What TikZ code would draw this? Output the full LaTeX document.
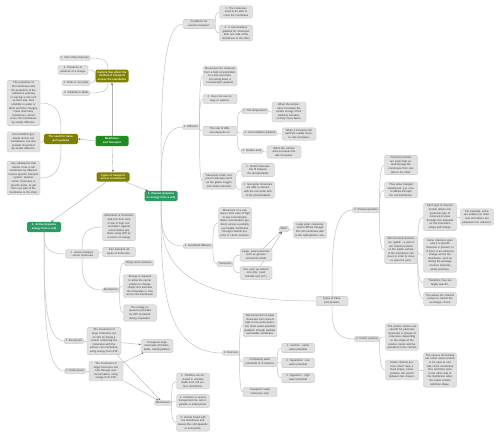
\documentclass[tikz,border=0pt]{standalone}
\usepackage{fontspec}
\setmainfont{Liberation Sans}
\usetikzlibrary{arrows.meta,backgrounds,calc}
\definecolor{boxfill}{RGB}{225,225,225}
\definecolor{boxdraw}{RGB}{195,195,195}
\definecolor{boxtext}{RGB}{60,60,60}
\definecolor{olivec}{RGB}{128,128,0}
\definecolor{greenc}{RGB}{30,140,30}
\definecolor{tealc}{RGB}{45,155,100}
\definecolor{linec}{RGB}{195,195,195}
\definecolor{relc}{RGB}{180,180,180}
\definecolor{headc}{RGB}{90,90,90}
\begin{document}
\begin{tikzpicture}[x=1pt,y=-1pt,
 every node/.style={font=\fontsize{2.7}{3.6}\selectfont, align=center, inner sep=1.5pt},
 box/.style={draw=boxdraw, fill=boxfill, rounded corners=1.5pt, text=boxtext, line width=0.4pt},
 tw/.style={text width=#1pt},
 hdr/.style={rounded corners=1.5pt, text=white, font=\fontsize{2.7}{3.5}\selectfont\bfseries, inner sep=2pt},
 olivebox/.style={hdr, fill=olivec, text width=29pt},
 greenbox/.style={hdr, fill=greenc, text width=29pt},
 tealbox/.style={hdr, fill=tealc, text width=29pt},
 tree/.style={to path={.. controls ($(\tikztostart)!0.5!(\tikztostart|-\tikztotarget)$) and (\tikztostart|-\tikztotarget) .. (\tikztotarget)}},
 branch/.style={draw=linec, line width=0.5pt},
 rel/.style={draw=relc, line width=0.4pt, -{Stealth[length=2.2pt,width=1.8pt,color=headc,fill=headc]}}
]
\useasboundingbox (0,0) rectangle (500,439);

% ---------- upper left ----------
\node[box] (f1) at (75,58) {1. Size of the molecule};
\node[box,tw=27] (f2) at (73,70) {2. Presence or absence of a charge};
\node[box] (f3) at (76,83) {3. Polar or non polar};
\node[box] (f4) at (76,93) {4. Solubility in lipids};
\node[olivebox] (factors) at (112,76) {Factors that affect the method of transport across the membrane};
\node[greenbox] (membrane) at (112,141) {Membrane and Transport};
\node[olivebox,text width=30pt] (need) at (61,139) {The need for transport systems};
\node[box,tw=30] (n1) at (23.5,103) {The properties of the membrane and the properties of the substance entering or leaving a cell such as their size, their solubility in water or lipids and their charges, mean that many substances cannot cross cell membranes by simple diffusion.};
\node[box,tw=30] (n2) at (23.5,142) {Concentration gradients across cell membranes can also prevent movement by simple diffusion.};
\node[box,tw=30] (n3) at (23.5,178) {Any substances that cannot cross a cell membrane by diffusion need a specific transport system, whether carrier molecules or specific pores, to get from one side of the membrane to the other.};
\node[olivebox] (types) at (113,177) {Types of transport across membranes};
\node[tealbox,text width=30pt] (active) at (44,227) {2. Active (requires energy from a cell)};
\node[tealbox] (passive) at (161,196) {1. Passive (requires no energy from a cell)};

% ---------- active branch ----------
\node[box,tw=30] (at) at (82,254) {1. Active transport - carrier molecules};
\node[box,tw=30] (atm) at (119,227) {Movement of molecules and ions from area of low to high concentration, against concentration gradient, using ATP as a source of energy.};
\node[box,tw=30] (atc) at (119,252) {Can transport all types of molecules.};
\node[box] (mech1) at (111,290) {Mechanism};
\node[box] (m1) at (139,263) {Using carrier proteins.};
\node[box,tw=30] (m2) at (140,286) {Energy is required to allow the carrier protein to change shape; this transfers the molecules or ions across the membrane.};
\node[box,tw=30] (m3) at (140,313) {The energy required is provided by ATP produced during respiration.};
\node[box] (exo) at (74,341) {2. Exocytosis};
\node[box,tw=31] (exod) at (104,341) {The movement of large molecules out of cells by fusing a vesicle containing the molecules with the surface cell membrane, using energy from ATP.};
\node[box] (endo) at (75,371) {3. Endocytosis};
\node[box,tw=31] (endod) at (106,371) {The movement of large molecules into cells through vesicle formation, using energy from ATP.};
\node[box,tw=29] (tlarge) at (157,346) {Transports large molecules (Proteins, lipids, carbohydrates)};
\node[box] (mech2) at (163,403) {Mechanism};
\node[box,tw=30] (p1) at (193,381) {1. Particles are enclosed in vesicles made from cell surface membrane.};
\node[box,tw=30] (p2) at (193,401) {2. Particles in vesicle transported into cell organelle or endocytosis.};
\node[box,tw=30] (p3) at (193,423) {3. Vesicle fused with the membrane and leaves the cell/organelle or exocytosis.};

% ---------- passive branch ----------
\node[box,tw=29] (cond) at (199,24) {Conditions for passive transport};
\node[box,tw=30] (c1) at (236,12) {1. The molecules need to be able to cross the membrane};
\node[box,tw=30] (c2) at (236,33) {2. A concentration gradient for molecules from one side of the membrane to the other};
\node[box] (diff) at (191,127) {1. Diffusion};
\node[box,tw=31] (d1) at (220,76) {Movement of a molecule from a high concentration to a low concentration along down a concentration gradient.};
\node[box,tw=31] (d2) at (220,99) {2. Does not use energy so passive.};
\node[box,tw=31] (d3) at (220,131) {The rate of diffusion depends on:};
\node[box] (r1) at (255,111) {1. The temperature};
\node[box,tw=31] (r1d) at (289,112) {When the temperature increases the kinetic energy of the particles increase, so they move faster.};
\node[box] (r2) at (260,133) {2. Concentration gradient};
\node[box,tw=31] (r2d) at (299,134) {When it increases the particles readily move, so rate increases.};
\node[box] (r3) at (252,151) {3. Surface area};
\node[box,tw=31] (r3d) at (284,152) {When the surface area increases the rate increases.};
\node[box,tw=30] (d4) at (219,181) {Transports small, non-polar molecules (such as the gases oxygen and carbon dioxide)};
\node[box,tw=30] (s1) at (258,170) {1. Small molecules can fit between the phospholipids};
\node[box,tw=30] (s2) at (258,190) {2. Non-polar molecules are able to interact with the non-polar tails of the phospholipids};
\node[box] (facil) at (198,246) {2. Facilitated diffusion};
\node[box,tw=30] (fd1) at (235,223) {Movement of a substance from area of high to low concentration down concentration gradient, across a partially permeable membrane through channel proteins or carrier proteins.};
\node[box] (ftr) at (225,264) {Transports};
\node[box,tw=29] (ft1) at (256,255) {Large, polar molecules such as glucose and amino acids};
\node[box,tw=29] (ft2) at (256,273) {Ions such as sodium ions (Na\textsuperscript{+}) and chloride ions (Cl\textsuperscript{-})};
\node[box] (why) at (284,229) {Why?};
\node[box,tw=30] (whyd) at (310,230) {Large polar molecules cannot diffuse through the cell membrane due to the hydrophobic core.};
\node[box,tw=29] (tp) at (332,301) {Types of transport proteins};
\node[box] (chan) at (366,210) {3. Channel proteins};
\node[box,tw=30] (ch1) at (401,165) {Channel proteins are pores that extend through the membrane from one side to the other.};
\node[box,tw=30] (ch2) at (401,190) {They allow charged substances, e.g. ions, to diffuse through the cell membrane.};
\node[box,tw=30] (ch3) at (401,250) {Most channel proteins are `gated' - a part of the channel protein on the inside surface of the membrane can move in order to close or open the pore.};
\node[box,tw=30] (ch31) at (440,217) {Each type of channel protein allows one particular type of molecule to pass through; this depends on the molecule's shape and charge.};
\node[box,tw=30] (ch311) at (477,217) {For example, some are sodium ion channels and others are potassium ion channels.};
\node[box,tw=30] (ch32) at (440,255) {Some channels open only if a specific molecule is present, or if there is an electrical charge across the membrane, such as during the passage of nerve impulses along neurones.};
\node[box,tw=30] (ch33) at (440,283) {Therefore, they are highly specific.};
\node[box,tw=30] (ch34) at (440,299) {This allows the channel protein to control the exchange of ions};
\node[box] (carr) at (367,339) {4. Carrier proteins};
\node[box,tw=30] (ca1) at (402,337) {The protein carriers are specific for particular molecules or groups of molecules, depending on the shape of the protein carrier and the substance to be carried.};
\node[box,tw=30] (ca2) at (402,370) {Unlike channel proteins which have a fixed shape, carrier proteins can switch between two shapes.};
\node[box,tw=30] (ca21) at (440,370) {This causes the binding site of the carrier protein to be open to one side of the membrane first, and then open to the other side of the membrane when the carrier protein switches shape.};
\node[box] (osm) at (231,353) {3. Osmosis};
\node[box,tw=31] (o1) at (260,325) {Net movement of water molecules from area of high to low water potential, down water potential gradient, through partially permeable membrane};
\node[box,tw=31] (o2) at (260,362) {Comparing water potentials of 3 solutions};
\node[box,tw=30] (o21) at (298,348) {1. Isotonic - same water potential};
\node[box,tw=30] (o22) at (298,363) {2. Hypertonic - low water potential};
\node[box,tw=30] (o23) at (298,378) {3. Hypotonic - high water potential};
\node[box,tw=31] (o3) at (260,392) {Transports water molecules only.};

\coordinate (fN) at ($(factors.north)+(-4,0)$);
\coordinate (fS) at ($(factors.south)+(-4,0)$);

\begin{scope}[on background layer]
\fill[white] (0,0) rectangle (500,439);
% tree connectors
\begin{scope}[every path/.style={branch}]
\draw (fN) to[tree] (f1.east);
\draw (factors.west) to[tree] (f2.east);
\draw (factors.west) to[tree] (f3.east);
\draw (fS) to[tree] (f4.east);
\draw (need.north) to[tree] (n1.east);
\draw (need.west) to[tree] (n2.east);
\draw (need.south) to[tree] (n3.east);
\draw (passive.north) to[tree] (cond.west);
\draw (passive.north) to[tree] (diff.west);
\draw (passive.south) to[tree] (facil.west);
\draw (passive.south) to[tree] (osm.west);
\draw (passive.south) to[tree] (tp.west);
\draw (cond.east) to[tree] (c1.west);
\draw (cond.east) to[tree] (c2.west);
\foreach \c in {d1,d2,d3,d4} \draw (diff.east) to[tree] (\c.west);
\foreach \c in {r1,r2,r3} \draw (d3.east) to[tree] (\c.west);
\draw (r1.east) to[tree] (r1d.west);
\draw (r2.east) to[tree] (r2d.west);
\draw (r3.east) to[tree] (r3d.west);
\draw (d4.east) to[tree] (s1.west);
\draw (d4.east) to[tree] (s2.west);
\draw (facil.east) to[tree] (fd1.west);
\draw (facil.east) to[tree] (ftr.west);
\draw (ftr.east) to[tree] (ft1.west);
\draw (ftr.east) to[tree] (ft2.west);
\draw (why.east) to[tree] (whyd.west);
\draw (tp.north) to[tree] (chan.west);
\draw (tp.south) to[tree] (carr.west);
\foreach \c in {ch1,ch2,ch3} \draw (chan.east) to[tree] (\c.west);
\foreach \c in {ch31,ch32,ch33,ch34} \draw (ch3.east) to[tree] (\c.west);
\draw (ch31.east) to[tree] (ch311.west);
\draw (carr.east) to[tree] (ca1.west);
\draw (carr.east) to[tree] (ca2.west);
\draw (ca2.east) to[tree] (ca21.west);
\foreach \c in {o1,o2,o3} \draw (osm.east) to[tree] (\c.west);
\foreach \c in {o21,o22,o23} \draw (o2.east) to[tree] (\c.west);
\draw (active.south) to[tree] (at.west);
\draw (active.south) to[tree] (exo.west);
\draw (active.south) to[tree] (endo.west);
\draw (at.north) to[tree] (atm.west);
\draw (at.east) to[tree] (atc.west);
\draw (at.south) to[tree] (mech1.west);
\foreach \c in {m1,m2,m3} \draw (mech1.east) to[tree] (\c.west);
\draw (exo.east) to[tree] (exod.west);
\draw (endo.east) to[tree] (endod.west);
\foreach \c in {p1,p2,p3} \draw (mech2.east) to[tree] (\c.west);
\end{scope}
% relationship arrows
\draw[rel] (membrane.north) -- (factors.south);
\draw[rel] (membrane.west) -- (need.east);
\draw[rel] (membrane.south) -- (types.north);
\draw[rel] (types) -- (active);
\draw[rel] (types) -- (passive);
\draw[rel] (ft1) -- (why);
\draw[rel] (ft2) -- (why);
\draw[rel] (exod) -- (tlarge);
\draw[rel] (endod) -- (tlarge);
\draw[rel] (exod) -- (mech2);
\draw[rel] (endod) -- (mech2);
\end{scope}
\end{tikzpicture}
\end{document}
